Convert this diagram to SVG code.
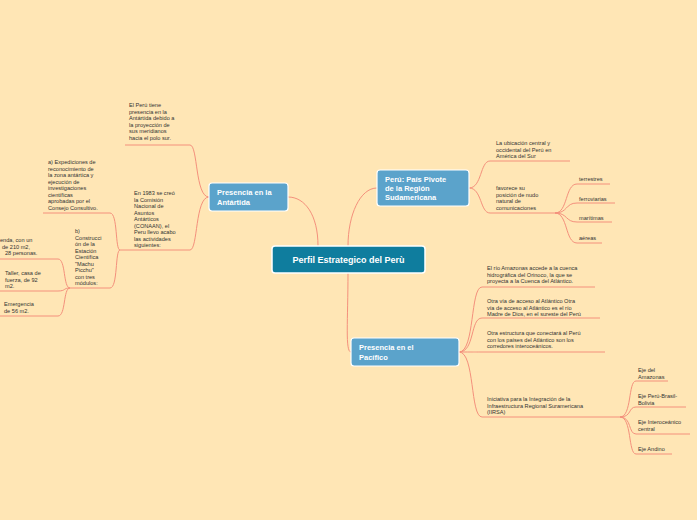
<svg xmlns="http://www.w3.org/2000/svg" width="697" height="520" viewBox="0 0 697 520">
<style>
.c{fill:none;stroke:#f4907c;stroke-width:1}
.t{font-family:"Liberation Sans",Arial,sans-serif;font-size:5.6px;fill:#333}
.n{fill:#5ba3cb;stroke:#fff;stroke-width:1.2}
.nt{font-family:"Liberation Sans",Arial,sans-serif;font-size:7.5px;font-weight:bold;fill:#fff}
</style>
<rect width="697" height="520" fill="#ffe6b5"/>
<g id="connectors">
<path class="c" d="M348 246 C348 215 360 188 377 188"/>
<path class="c" d="M318 246 C318 215 305 197 288 197"/>
<path class="c" d="M348 273 C348 320 345 352 351 352"/>
<path class="c" d="M209 197 C195 197 198 145 190 145 L125 145"/>
<path class="c" d="M209 197 C195 197 198 250 190 250 L120 250"/>
<path class="c" d="M120 250 C115 250 118 213 110 213 L43 213"/>
<path class="c" d="M120 250 C115 250 118 288 110 288 L70 288"/>
<path class="c" d="M70 288 C63 288 66 259 58 259 L0 259"/>
<path class="c" d="M70 288 C63 288 66 291 58 291 L0 291"/>
<path class="c" d="M70 288 C63 288 66 316 58 316 L0 316"/>
<path class="c" d="M469 188 C482 188 480 161 490 161 L570 161"/>
<path class="c" d="M469 188 C482 188 480 213 490 213 L555 213"/>
<path class="c" d="M555 213 C568 213 565 184 577 184 L610 184"/>
<path class="c" d="M555 213 C568 213 565 203 577 203 L615 203"/>
<path class="c" d="M555 213 C568 213 565 222 577 222 L612 222"/>
<path class="c" d="M555 213 C568 213 565 243 577 243 L602 243"/>
<path class="c" d="M459 352 C475 352 470 287 482 287 L595 287"/>
<path class="c" d="M459 352 C475 352 470 318 482 318 L600 318"/>
<path class="c" d="M459 352 C475 352 470 352 482 352 L605 352"/>
<path class="c" d="M459 352 C475 352 470 417 482 417 L620 417"/>
<path class="c" d="M620 417 C632 417 628 381 636 381 L668 381"/>
<path class="c" d="M620 417 C632 417 628 407 636 407 L686 407"/>
<path class="c" d="M620 417 C632 417 628 434 636 434 L690 434"/>
<path class="c" d="M620 417 C632 417 628 454 636 454 L672 454"/>
</g>
<g id="center"><rect x="272" y="246" width="153" height="27" rx="3" fill="#0f7d9e" stroke="#fff" stroke-width="1.5"/><text x="348.5" y="263" text-anchor="middle" class="nt" style="font-size:9px">Perfil Estrategico del Perù</text></g>
<g id="antartida"><rect class="n" x="209" y="183" width="79" height="28" rx="3"/><text class="nt" x="217" y="195">Presencia en la</text><text class="nt" x="217" y="205">Antártida</text></g>
<g id="peru"><rect class="n" x="377" y="170" width="92" height="36" rx="3"/><text class="nt" x="385" y="182">Perú: País Pivote</text><text class="nt" x="385" y="191">de la Región</text><text class="nt" x="385" y="200">Sudamericana</text></g>
<g id="pacifico"><rect class="n" x="351" y="338" width="108" height="28" rx="3"/><text class="nt" x="359" y="350">Presencia en el</text><text class="nt" x="359" y="360">Pacífico</text></g>
<g id="leaves" class="t">
<text class="t" x="129" y="107">El Perú tiene</text><text class="t" x="129" y="113.5">presencia en la</text><text class="t" x="129" y="120">Antártida debido a</text><text class="t" x="129" y="126.5">la proyección de</text><text class="t" x="129" y="133">sus meridianos</text><text class="t" x="129" y="139.5">hacia el polo sur.</text>
<text class="t" x="134" y="195">En 1983 se creó</text><text class="t" x="134" y="201.5">la Comisión</text><text class="t" x="134" y="208">Nacional de</text><text class="t" x="134" y="214.5">Asuntos</text><text class="t" x="134" y="221">Antárticos</text><text class="t" x="134" y="227.5">(CONAAN), el</text><text class="t" x="134" y="234">Peru llevo acabo</text><text class="t" x="134" y="240.5">las actividades</text><text class="t" x="134" y="247">siguientes:</text>
<text class="t" x="48" y="164">a) Expediciones de</text><text class="t" x="48" y="170.5">reconocimiento de</text><text class="t" x="48" y="177">la zona antártica y</text><text class="t" x="48" y="183.5">ejecución de</text><text class="t" x="48" y="190">investigaciones</text><text class="t" x="48" y="196.5">científicas</text><text class="t" x="48" y="203">aprobadas por el</text><text class="t" x="48" y="209.5">Consejo Consultivo.</text>
<text class="t" x="75" y="233">b)</text><text class="t" x="75" y="239.5">Construcci</text><text class="t" x="75" y="246">ón de la</text><text class="t" x="75" y="252.5">Estación</text><text class="t" x="75" y="259">Científica</text><text class="t" x="75" y="265.5">"Machu</text><text class="t" x="75" y="272">Picchu"</text><text class="t" x="75" y="278.5">con tres</text><text class="t" x="75" y="285">módulos:</text>
<text class="t" x="0" y="242">enda, con un</text><text class="t" x="2" y="248.5">de 210 m2,</text><text class="t" x="5" y="255">28 personas.</text>
<text class="t" x="5" y="275">Taller, casa de</text><text class="t" x="5" y="281.5">fuerza, de 92</text><text class="t" x="5" y="288">m2.</text>
<text class="t" x="4" y="306">Emergencia</text><text class="t" x="4" y="312.5">de 56 m2.</text>
<text class="t" x="496" y="145">La ubicación central y</text><text class="t" x="496" y="151.5">occidental del Perú en</text><text class="t" x="496" y="158">América del Sur</text>
<text class="t" x="496" y="190">favorece su</text><text class="t" x="496" y="196.5">posición de nudo</text><text class="t" x="496" y="203">natural de</text><text class="t" x="496" y="209.5">comunicaciones</text>
<text class="t" x="579" y="181">terrestres</text><text class="t" x="579" y="201">ferroviarias</text><text class="t" x="579" y="220">marítimas</text><text class="t" x="579" y="240">aéreas</text>
<text class="t" x="487" y="270">El río Amazonas accede a la cuenca</text><text class="t" x="487" y="276.5">hidrográfica del Orinoco, la que se</text><text class="t" x="487" y="283">proyecta a la Cuenca del Atlántico.</text>
<text class="t" x="487" y="303">Otra vía de acceso al Atlántico Otra</text><text class="t" x="487" y="309.5">vía de acceso al Atlántico es el río</text><text class="t" x="487" y="316">Madre de Dios, en el sureste del Perú</text>
<text class="t" x="487" y="335">Otra estructura que conectará al Perú</text><text class="t" x="487" y="341.5">con los países del Atlántico son los</text><text class="t" x="487" y="348">corredores interoceánicos.</text>
<text class="t" x="487" y="401">Iniciativa para la Integración de la</text><text class="t" x="487" y="407.5">Infraestructura Regional Suramericana</text><text class="t" x="487" y="414">(IIRSA)</text>
<text class="t" x="638" y="372">Eje del</text><text class="t" x="638" y="378.5">Amazonas</text>
<text class="t" x="638" y="398">Eje Perú-Brasil-</text><text class="t" x="638" y="404.5">Bolivia</text>
<text class="t" x="638" y="424">Eje Interoceánico</text><text class="t" x="638" y="430.5">central</text>
<text class="t" x="638" y="451">Eje Andino</text>
</g>
</svg>
